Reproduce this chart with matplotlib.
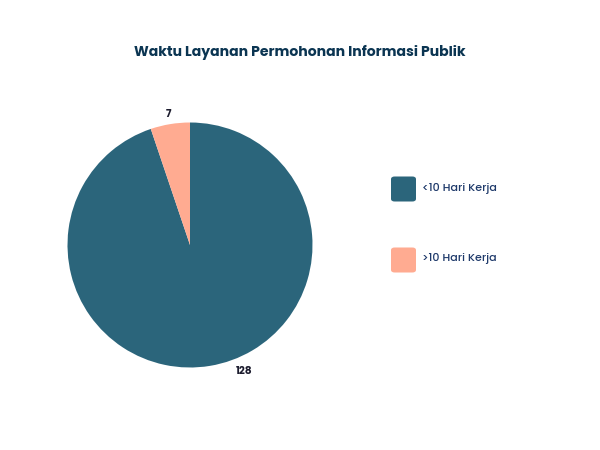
import numpy as np
import matplotlib
matplotlib.use("Agg")
import matplotlib.pyplot as plt
from matplotlib.patches import FancyBboxPatch

# ── Data ──────────────────────────────────────────────────────────────────────
categories = ["<10 Hari Kerja", ">10 Hari Kerja"]
values = [128, 7]
colors = ["#2b657b", "#ffab91"]

plt.rcParams["font.family"] = ["Poppins", "Open Sans", "DejaVu Sans"]

W, H = 600, 450
fig = plt.figure(figsize=(W / 100, H / 100), dpi=100)
fig.patch.set_facecolor("white")

# pie axes: centre (190, 245) px, radius ~122 px
cx, cy, r = 190, 245, 122.5
ax = fig.add_axes([(cx - r) / W, (H - cy - r) / H, 2 * r / W, 2 * r / H])
wedges, _ = ax.pie(values, colors=colors, startangle=90, counterclock=False,
                   wedgeprops=dict(linewidth=0))
ax.set_xlim(-1, 1)
ax.set_ylim(-1, 1)
ax.set_aspect("equal")
ax.axis("off")

# value labels just outside the rim
for w, v in zip(wedges, values):
    ang = np.deg2rad((w.theta1 + w.theta2) / 2)
    if v == max(values):
        ang = np.deg2rad(-67)   # library nudges the big label to the right
        dist = 1.12
    else:
        dist = 1.08
    ax.text(dist * np.cos(ang), dist * np.sin(ang), str(v), ha="center",
            va="center", fontsize=7.5, fontweight="bold", color="#1c1c2e",
            clip_on=False)

# title
fig.text(300 / W, 1 - 52 / H, "Waktu Layanan Permohonan Informasi Publik",
         ha="center", va="center", fontsize=10.1, fontweight="bold",
         color="#0b3552")

# legend: rounded squares + text
for i, (lab, col) in enumerate(zip(categories, colors)):
    yc = 189 + i * 71
    box = FancyBboxPatch(((391) / W, 1 - (yc + 12.5) / H), 25 / W, 25 / H,
                         boxstyle="round,pad=0,rounding_size=0.006",
                         transform=fig.transFigure, facecolor=col,
                         edgecolor="none")
    fig.patches.append(box)
    fig.text(422 / W, 1 - (yc - 1) / H, lab, ha="left", va="center",
             fontsize=8, fontweight="medium", color="#1f3a6b")

fig.savefig("out.png", dpi=100, facecolor=fig.get_facecolor())
